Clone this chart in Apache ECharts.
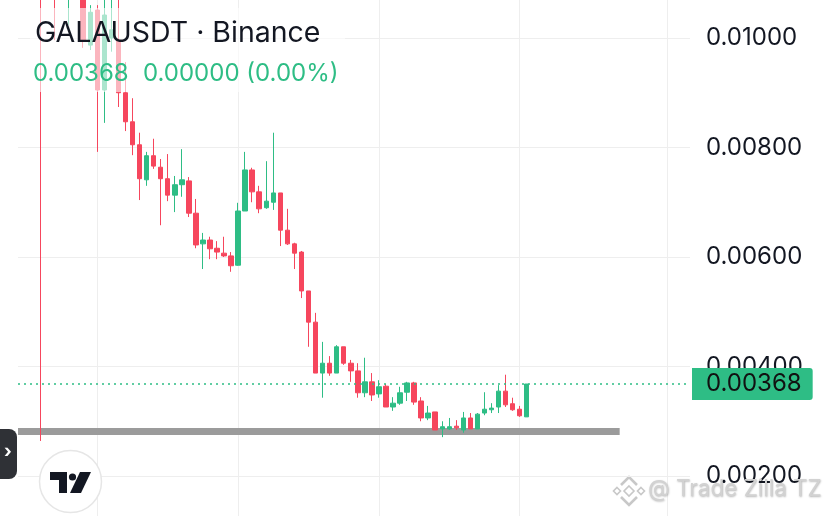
<!DOCTYPE html>
<html>
<head>
<meta charset="utf-8">
<script src="https://cdn.jsdelivr.net/npm/echarts@6.0.0/dist/echarts.min.js"></script>
<style>
html,body{margin:0;padding:0;background:#fff;}
#chart{width:829px;height:516px;}
</style>
</head>
<body>
<div id="chart"></div>
<script>
// ---- data ----
const opens = [0.01250,0.01120,0.01150,0.01080,0.01100,0.01150,0.01100,0.00987,0.01051,0.00905,
  0.01000,0.00996,0.00900,0.00847,0.00805,0.00741,0.00785,0.00764,0.00743,0.00713,
  0.00732,0.00739,0.00680,0.00624,0.00631,0.00616,0.00607,0.00602,0.00585,0.00684,
  0.00759,0.00719,0.00690,0.00700,0.00717,0.00649,0.00624,0.00609,0.00538,0.00481,
  0.00388,0.00406,0.00388,0.00436,0.00406,0.00392,0.00352,0.00372,0.00350,0.00364,
  0.00326,0.00333,0.00353,0.00370,0.00337,0.00306,0.00317,0.00286,0.00286,0.00291,
  0.00284,0.00306,0.00286,0.00315,0.00321,0.00326,0.00355,0.00332,0.00322,0.00308];
const closes = [0.01120,0.01180,0.01080,0.01130,0.01150,0.01110,0.00996,0.01047,0.00905,0.01042,
  0.01015,0.00900,0.00847,0.00805,0.00743,0.00785,0.00766,0.00743,0.00713,0.00732,
  0.00741,0.00680,0.00622,0.00631,0.00615,0.00609,0.00602,0.00584,0.00684,0.00759,
  0.00719,0.00688,0.00702,0.00717,0.00649,0.00624,0.00607,0.00538,0.00481,0.00388,
  0.00406,0.00388,0.00436,0.00406,0.00392,0.00352,0.00372,0.00348,0.00363,0.00326,
  0.00333,0.00352,0.00370,0.00335,0.00306,0.00315,0.00284,0.00290,0.00290,0.00288,
  0.00306,0.00286,0.00313,0.00322,0.00324,0.00355,0.00330,0.00321,0.00310,0.00368];
const lows = [0.00264,0.01085,0.00996,0.01075,0.01024,0.01075,0.00982,0.00978,0.00792,0.00845,
  0.00975,0.00874,0.00830,0.00786,0.00704,0.00730,0.00761,0.00658,0.00702,0.00682,
  0.00710,0.00673,0.00616,0.00578,0.00596,0.00596,0.00600,0.00573,0.00584,0.00684,
  0.00700,0.00680,0.00688,0.00686,0.00620,0.00622,0.00578,0.00525,0.00436,0.00388,
  0.00343,0.00383,0.00388,0.00403,0.00372,0.00343,0.00344,0.00337,0.00343,0.00326,
  0.00319,0.00330,0.00337,0.00330,0.00300,0.00302,0.00284,0.00271,0.00284,0.00284,
  0.00279,0.00286,0.00286,0.00311,0.00315,0.00315,0.00326,0.00319,0.00308,0.00308];
const highs = [0.01300,0.01220,0.01170,0.01160,0.01170,0.01180,0.01120,0.01060,0.01060,0.01080,
  0.01080,0.01075,0.00956,0.00890,0.00827,0.00792,0.00816,0.00779,0.00788,0.00748,
  0.00797,0.00746,0.00706,0.00644,0.00637,0.00629,0.00637,0.00609,0.00699,0.00792,
  0.00763,0.00730,0.00775,0.00827,0.00717,0.00688,0.00626,0.00611,0.00538,0.00498,
  0.00445,0.00419,0.00439,0.00436,0.00412,0.00406,0.00416,0.00388,0.00375,0.00368,
  0.00344,0.00363,0.00372,0.00372,0.00344,0.00328,0.00317,0.00300,0.00306,0.00302,
  0.00317,0.00315,0.00315,0.00353,0.00333,0.00366,0.00385,0.00343,0.00328,0.00368];
const priceTicks = [0.002, 0.004, 0.006, 0.008, 0.010];
const timeGridIdx = [8, 28, 48, 68, 89];
const supportPrice = 0.002813;
const supportEndIdx = 82.2;
const lastPrice = closes[closes.length - 1];
const change = 0.00000, changePct = 0.00;
const titleText = 'GALAUSDT · Binance';

// ---- chart ----
const UP = '#2EBD85', DOWN = '#F6465D';
const X_MIN = -3.267, X_MAX = 92.19;
const Y_MIN = 0.00126941, Y_MAX = 0.01069406;
const FONT = 'Inter, Roboto, "Noto Sans", sans-serif';

const candleData = opens.map((o, i) => [i, o, closes[i], lows[i], highs[i]]);

const chart = echarts.init(document.getElementById('chart'), null, {renderer: 'canvas'});
chart.setOption({
  animation: false,
  backgroundColor: '#ffffff',
  grid: [
    {left: 18, right: 139, top: 0, bottom: 0},
    {left: 18, right: 139, top: 38, bottom: 40}
  ],
  xAxis: [
    {type: 'value', gridIndex: 0, min: X_MIN, max: X_MAX, show: false},
    {type: 'value', gridIndex: 1, min: 0, max: 1, show: false}
  ],
  yAxis: [
    {type: 'value', gridIndex: 0, min: Y_MIN, max: Y_MAX, show: false},
    {type: 'value', gridIndex: 1, position: 'right', min: priceTicks[0], max: priceTicks[priceTicks.length - 1],
     interval: 0.002,
     axisLine: {show: false}, axisTick: {show: false},
     splitLine: {show: true, lineStyle: {color: '#eeeeee', width: 1}},
     axisLabel: {show: true, margin: 16, color: '#131722', fontSize: 24, fontFamily: FONT,
       formatter: v => v.toFixed(5)}}
  ],
  series: [
    {
      type: 'line', xAxisIndex: 1, yAxisIndex: 1, data: [], silent: true
    },
    {
      type: 'line', xAxisIndex: 0, yAxisIndex: 0, data: [], silent: true,
      markLine: {
        silent: true, z: 0, symbol: ['none', 'none'], label: {show: false},
        lineStyle: {color: '#eeeeee', width: 1, type: 'solid'},
        emphasis: {disabled: true},
        data: timeGridIdx.map(v => ({xAxis: v}))
      }
    },
    {
      type: 'line', xAxisIndex: 0, yAxisIndex: 0, data: [], silent: true,
      markLine: {
        silent: true, z: 1, symbol: ['none', 'none'], label: {show: false},
        lineStyle: {color: '#9b9b9b', width: 7, type: 'solid', cap: 'butt'},
        emphasis: {disabled: true},
        data: [[{coord: [X_MIN, supportPrice]}, {coord: [supportEndIdx, supportPrice]}]]
      }
    },
    {
      type: 'candlestick', xAxisIndex: 0, yAxisIndex: 0, z: 2,
      data: candleData,
      encode: {x: 0, y: [1, 2, 3, 4]},
      barWidth: 5,
      itemStyle: {color: UP, color0: DOWN, borderColor: UP, borderColor0: DOWN, borderWidth: 1}
    },
    {
      type: 'line', xAxisIndex: 0, yAxisIndex: 0, data: [], silent: true,
      markLine: {
        silent: true, z: 5, symbol: ['none', 'none'],
        lineStyle: {color: UP, width: 1.5, type: [2, 4]},
        emphasis: {disabled: true},
        label: {
          show: true, position: 'end', distance: 2,
          formatter: () => lastPrice.toFixed(5),
          backgroundColor: UP, color: '#111111', fontSize: 24, fontFamily: FONT,
          padding: [4, 11, 4, 14], borderRadius: [0, 3, 3, 0]
        },
        data: [[{coord: [X_MIN, lastPrice]}, {coord: [X_MAX, lastPrice]}]]
      }
    }
  ],
  graphic: [
    // legend backdrop
    {type: 'rect', z: 100, silent: true, shape: {x: 30, y: 8, width: 315, height: 84},
     style: {fill: 'rgba(255,255,255,0.6)'}},
    {type: 'text', z: 101, silent: true, left: 35, top: 19,
     style: {text: titleText, fill: '#131722', font: '28.5px ' + FONT}},
    {type: 'text', z: 101, silent: true, left: 33, top: 62,
     style: {text: lastPrice.toFixed(5), fill: UP, font: '24px ' + FONT}},
    {type: 'text', z: 101, silent: true, left: 143, top: 62,
     style: {text: change.toFixed(5) + ' (' + changePct.toFixed(2) + '%)', fill: UP, font: '24px ' + FONT}},
    // left tab
    {type: 'rect', z: 100, silent: true, shape: {x: -10, y: 429, width: 27, height: 50, r: 8},
     style: {fill: '#2f3136'}},
    {type: 'text', z: 101, silent: true, left: 4, top: 443,
     style: {text: '›', fill: '#ffffff', font: 'bold 18px ' + FONT}},
    // TradingView logo
    {type: 'circle', z: 100, silent: true, shape: {cx: 70.5, cy: 481.5, r: 31},
     style: {fill: '#ffffff', stroke: '#e6e6e6', lineWidth: 1.5}},
    {type: 'polygon', z: 101, silent: true,
     shape: {points: [[50,472],[67,472],[67,493],[59,493],[59,480],[50,480]]}, style: {fill: '#131722'}},
    {type: 'circle', z: 101, silent: true, shape: {cx: 72.5, cy: 477, r: 3.6}, style: {fill: '#131722'}},
    {type: 'polygon', z: 101, silent: true,
     shape: {points: [[80,472],[91,472],[81,493],[70,493]]}, style: {fill: '#131722'}},
    // watermark
    {type: 'group', z: 100, silent: true, children: [
      {type: 'polygon', shape: {points: [[629,486],[634,491],[629,496],[624,491]]}, style: {fill: '#ffffff', stroke: '#c8c8c8', lineWidth: 1.6}},
      {type: 'polygon', shape: {points: [[617,487.5],[620.5,491],[617,494.5],[613.5,491]]}, style: {fill: '#ffffff', stroke: '#c8c8c8', lineWidth: 1.6}},
      {type: 'polygon', shape: {points: [[641,487.5],[644.5,491],[641,494.5],[637.5,491]]}, style: {fill: '#ffffff', stroke: '#c8c8c8', lineWidth: 1.6}},
      {type: 'polyline', shape: {points: [[621,485],[629,477],[637,485]]}, style: {stroke: '#c8c8c8', lineWidth: 2.6, fill: null}},
      {type: 'polyline', shape: {points: [[621,497],[629,505],[637,497]]}, style: {stroke: '#c8c8c8', lineWidth: 2.6, fill: null}}
    ]},
    {type: 'text', z: 101, silent: true, left: 648, top: 478,
     style: {text: '@ Trade Zilla TZ', fill: '#d2d2d2', font: '22.5px ' + FONT,
       textShadowColor: 'rgba(0,0,0,0.3)', textShadowBlur: 2, textShadowOffsetX: 0.5, textShadowOffsetY: 0.5}}
  ]
});
</script>
</body>
</html>
